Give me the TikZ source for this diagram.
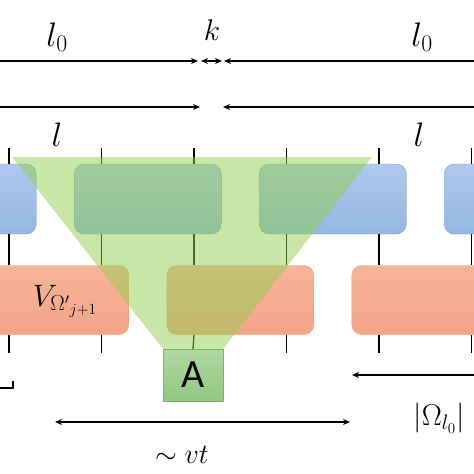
\RequirePackage{fix-cm}
\documentclass[tikz,border=0pt]{standalone}
\usepackage{fontspec}
\usepackage{amsmath}
\usetikzlibrary{arrows.meta}
\newfontfamily\boxfont{Carlito}
\definecolor{bltop}{RGB}{174,201,236}
\definecolor{blbot}{RGB}{148,183,226}
\definecolor{bledge}{RGB}{118,154,204}
\definecolor{rdtop}{RGB}{247,180,155}
\definecolor{rdbot}{RGB}{244,165,136}
\definecolor{rdedge}{RGB}{238,148,114}
\definecolor{lcone}{RGB}{146,208,80}
\definecolor{agtop}{RGB}{176,218,162}
\definecolor{agbot}{RGB}{146,199,130}
\definecolor{agedge}{RGB}{118,180,98}

\begin{document}
\begin{tikzpicture}[x=1pt,y=-1pt,
  topbox/.style={draw=bledge, rounded corners=10pt, top color=bltop, bottom color=blbot,
    minimum width=147pt, minimum height=70pt, inner sep=0pt},
  botbox/.style={draw=rdedge, rounded corners=10pt, top color=rdtop, bottom color=rdbot,
    minimum width=147pt, minimum height=69pt, inner sep=0pt},
  wire/.style={line width=1.3pt},
  meas/.style={line width=1.4pt},
  measr/.style={meas, -{Stealth[length=7pt,width=6pt]}},
  measl/.style={meas, {Stealth[length=7pt,width=6pt]}-},
  measb/.style={meas, {Stealth[length=7pt,width=6pt]}-{Stealth[length=7pt,width=6pt]}},
  lbl/.style={inner sep=0pt}]
\useasboundingbox (0,0) rectangle (474,474);

% upper layer
\node[topbox] (t1) at (-37.25,199) {};
\node[topbox] (t2) at (147.75,199) {};
\node[topbox] (t3) at (332.75,199) {};
\node[topbox] (t4) at (517.75,199) {};
% lower layer
\node[botbox] (b1) at (55.25,300) {};
\node[botbox] (b2) at (240.25,300) {};
\node[botbox] (b3) at (425.25,300) {};

% the local operator
\node[draw=agedge, top color=agtop, bottom color=agbot, minimum width=60pt, minimum height=52pt,
  inner sep=0pt, font=\boxfont\fontsize{40}{40}\selectfont] (A) at (193,375) {A};

% legs
\foreach \i/\tb/\bb in {0/t1/b1, 1/t2/b1, 2/t2/b2, 3/t3/b2, 4/t3/b3, 5/t4/b3} {
  \coordinate (w\i) at (9+92.5*\i,0);
  \draw[wire] (\tb.north -| w\i) -- ++(0,-16);
  \draw[wire] (\tb.south -| w\i) -- (\bb.north -| w\i);
}
\foreach \i/\bb in {0/b1, 1/b1, 3/b2, 4/b3, 5/b3}
  \draw[wire] (\bb.south -| w\i) -- ++(0,18);
\draw[wire] (b2.south -| w2) -- (A.north);

% light cone
\fill[lcone, opacity=0.5] (12,157) -- (372,157) -- (A.north east) -- (A.north west) -- cycle;

% lengths on top
\coordinate (u0) at (0,61);
\coordinate (u1) at (198,61);
\coordinate (k0) at (201,61);
\coordinate (k1) at (222,61);
\coordinate (u2) at (224,61);
\coordinate (u3) at (474,61);
\draw[measr] (u0) -- (u1);
\draw[measb] (k0) -- (k1);
\draw[measl] (u2) -- (u3);
\coordinate (v0) at (0,107);
\coordinate (v1) at (200,107);
\coordinate (v2) at (223,107);
\coordinate (v3) at (474,107);
\draw[measr] (v0) -- (v1);
\draw[measl] (v2) -- (v3);

\node[lbl] (l0a) at (57,37) {\fontsize{34}{40}\selectfont$l_0$};
\node[lbl] (kk) at (212,30) {\fontsize{30}{36}\selectfont$k$};
\node[lbl] (l0b) at (422,37) {\fontsize{34}{40}\selectfont$l_0$};
\node[lbl] (la) at (57,135) {\fontsize{34}{40}\selectfont$l$};
\node[lbl] (lb) at (419,135) {\fontsize{34}{40}\selectfont$l$};

\node[lbl] (vlab) at (65,301) {\fontsize{31}{36}\selectfont$V_{{\Omega'}_{j+1}}$};

% bottom
\draw[meas] (0,388) -- (13,388) -- (13,381);
\coordinate (r0) at (352,375);
\coordinate (r1) at (474,375);
\draw[measl] (r0) -- (r1);
\node[lbl] (om) at (439,418) {\fontsize{30}{34}\selectfont$|\Omega_{l_0}|$};
\coordinate (s0) at (55,422);
\coordinate (s1) at (350,422);
\draw[measb] (s0) -- (s1);
\node[lbl] (vt) at (182,455) {\fontsize{28}{32}\selectfont$\sim vt$};
\end{tikzpicture}
\end{document}
